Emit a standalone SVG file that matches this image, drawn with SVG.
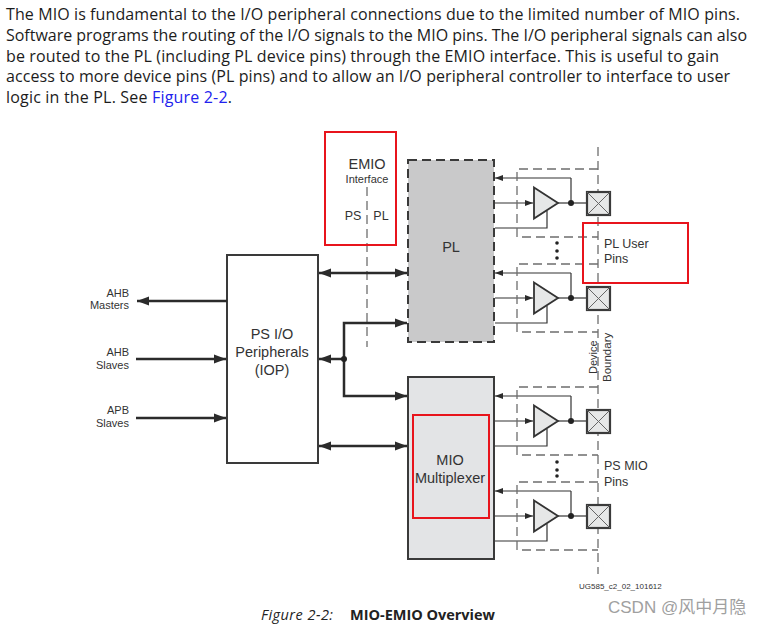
<svg xmlns="http://www.w3.org/2000/svg" width="760" height="626" viewBox="0 0 760 626">
<defs>
<marker id="a" markerUnits="userSpaceOnUse" markerWidth="13" markerHeight="10" refX="12" refY="5" orient="auto-start-reverse"><path d="M0 0.5L12 5L0 9.500Z" fill="#2b2b2b"/></marker>
<marker id="s" markerUnits="userSpaceOnUse" markerWidth="9" markerHeight="7" refX="8" refY="3.500" orient="auto"><path d="M0 0.5L8 3.500L0 6.500Z" fill="#2b2b2b"/></marker>
<g id="pad"><rect x="0" y="0" width="23" height="23" fill="#e6e7e7" stroke="#3a3a3a" stroke-width="2.200"/><path d="M0 0L23 23M23 0L0 23" stroke="#666" fill="none"/></g>
<g id="unit">
<path class="sig" d="M571 25H495" marker-end="url(#s)"/>
<path class="sig" d="M571 25V50"/>
<path class="sig" d="M495 50H533" marker-end="url(#s)"/>
<path class="sig" d="M495 75H547V58"/>
<path d="M534 34.500L558 50L534 65.500Z" fill="#e6e7e7" stroke="#333" stroke-width="1.800"/>
<path class="sig" d="M558 50H587"/>
<circle cx="571" cy="50" r="3" fill="#222"/>
<use href="#pad" x="587" y="39"/>
<path class="dash" d="M598 16H517V84H598"/>
</g>
</defs>
<style>
text{font-family:"Liberation Sans",Arial,sans-serif;fill:#333}
.body{font-family:"Open Sans","Noto Sans",sans-serif;font-size:16px;fill:#1c1c1c}
.cap{font-family:"Open Sans","Noto Sans",sans-serif;fill:#222}
.sig{fill:none;stroke:#333;stroke-width:1.200}
.bus{fill:none;stroke:#2b2b2b;stroke-width:2.500}
.dash{fill:none;stroke:#6e6e6e;stroke-width:1.300;stroke-dasharray:9 5}
.red{fill:none;stroke:#e8141c;stroke-width:2}
.box{stroke:#3a3a3a;stroke-width:2}
.lab{font-size:14.500px}
.sm{font-size:11px}
</style>
<g id="paragraph">
<text class="body" x="6" y="20" textLength="734">The MIO is fundamental to the I/O peripheral connections due to the limited number of MIO pins.</text>
<text class="body" x="6" y="41" textLength="741">Software programs the routing of the I/O signals to the MIO pins. The I/O peripheral signals can also</text>
<text class="body" x="6" y="62" textLength="713">be routed to the PL (including PL device pins) through the EMIO interface. This is useful to gain</text>
<text class="body" x="6" y="82" textLength="724">access to more device pins (PL pins) and to allow an I/O peripheral controller to interface to user</text>
<text class="body" x="6" y="103" textLength="226">logic in the PL. See <tspan fill="#2222ee">Figure 2-2</tspan>.</text>
</g>
<g id="boundaries">
<path class="dash" d="M367 187V347"/>
<path class="dash" d="M598 147V574"/>
</g>
<g id="iop"><rect class="box" x="227" y="255" width="91" height="208" fill="#fff"/>
<text class="lab" x="272" y="339" text-anchor="middle">PS I/O</text>
<text class="lab" x="272" y="357" text-anchor="middle">Peripherals</text>
<text class="lab" x="272" y="375" text-anchor="middle">(IOP)</text></g>
<g id="pl"><rect x="408" y="160" width="86" height="182" fill="#c9c9ca" stroke="#3a3a3a" stroke-width="2" stroke-dasharray="9 5"/>
<text class="lab" x="451" y="252" text-anchor="middle">PL</text></g>
<g id="mio"><rect class="box" x="408" y="377" width="86" height="182" fill="#e3e4e6"/>
<text class="lab" x="450" y="465" text-anchor="middle">MIO</text>
<text class="lab" x="450" y="483" text-anchor="middle">Multiplexer</text></g>
<g id="connectors">
<path class="bus" d="M227 301H137" marker-end="url(#a)"/>
<path class="bus" d="M136 359H226" marker-end="url(#a)"/>
<path class="bus" d="M136 418H226" marker-end="url(#a)"/>
<path class="bus" d="M319 273H407" marker-start="url(#a)" marker-end="url(#a)"/>
<path class="bus" d="M344 359H319" marker-end="url(#a)"/>
<path class="bus" d="M344 359V323H407" marker-end="url(#a)"/>
<path class="bus" d="M344 359V396H407" marker-end="url(#a)"/>
<circle cx="344" cy="359" r="3" fill="#222"/>
<path class="bus" d="M319 446H407" marker-start="url(#a)" marker-end="url(#a)"/>
</g>
<g id="io-units">
<use href="#unit" y="153"/>
<use href="#unit" y="248"/>
<use href="#unit" y="371"/>
<use href="#unit" y="466"/>
</g>
<g id="ellipsis" fill="#222">
<circle cx="557" cy="243" r="1.800"/><circle cx="557" cy="251" r="1.800"/><circle cx="557" cy="258" r="1.800"/>
<circle cx="557" cy="462" r="1.800"/><circle cx="557" cy="470" r="1.800"/><circle cx="557" cy="476" r="1.800"/>
</g>
<g id="labels">
<text x="367" y="169" font-size="14.500" text-anchor="middle">EMIO</text>
<text x="367" y="183" font-size="11" text-anchor="middle">Interface</text>
<text x="353" y="220" font-size="12.500" text-anchor="middle">PS</text>
<text x="381" y="220" font-size="12.500" text-anchor="middle">PL</text>
<text class="sm" x="129" y="297" text-anchor="end">AHB</text>
<text class="sm" x="129" y="309" text-anchor="end">Masters</text>
<text class="sm" x="129" y="356" text-anchor="end">AHB</text>
<text class="sm" x="129" y="369" text-anchor="end">Slaves</text>
<text class="sm" x="129" y="414" text-anchor="end">APB</text>
<text class="sm" x="129" y="427" text-anchor="end">Slaves</text>
<text x="604" y="248" font-size="12.500">PL User</text>
<text x="604" y="263" font-size="12.500">Pins</text>
<text x="604" y="470" font-size="12.500">PS MIO</text>
<text x="604" y="486" font-size="12.500">Pins</text>
<text transform="translate(597 374) rotate(-90)" font-size="11">Device</text>
<text transform="translate(611 382) rotate(-90)" font-size="11.500">Boundary</text>
<text x="579" y="589" font-size="8">UG585_c2_02_101612</text>
</g>
<g id="highlights">
<rect class="red" x="325" y="132" width="71" height="113"/>
<rect class="red" x="583" y="223" width="105" height="60"/>
<rect class="red" x="413" y="415" width="76" height="103"/>
</g>
<g id="caption">
<text class="cap" x="261" y="620" font-style="italic" font-size="14.500" textLength="72">Figure 2-2:</text>
<text class="cap" x="350" y="620" font-weight="bold" font-size="14.500" textLength="145">MIO-EMIO Overview</text>
</g>
<text id="watermark" x="608" y="613" font-size="17" style="font-family:'Liberation Sans','Noto Sans CJK SC',sans-serif;fill:#a0a0a0">CSDN @风中月隐</text>
</svg>
